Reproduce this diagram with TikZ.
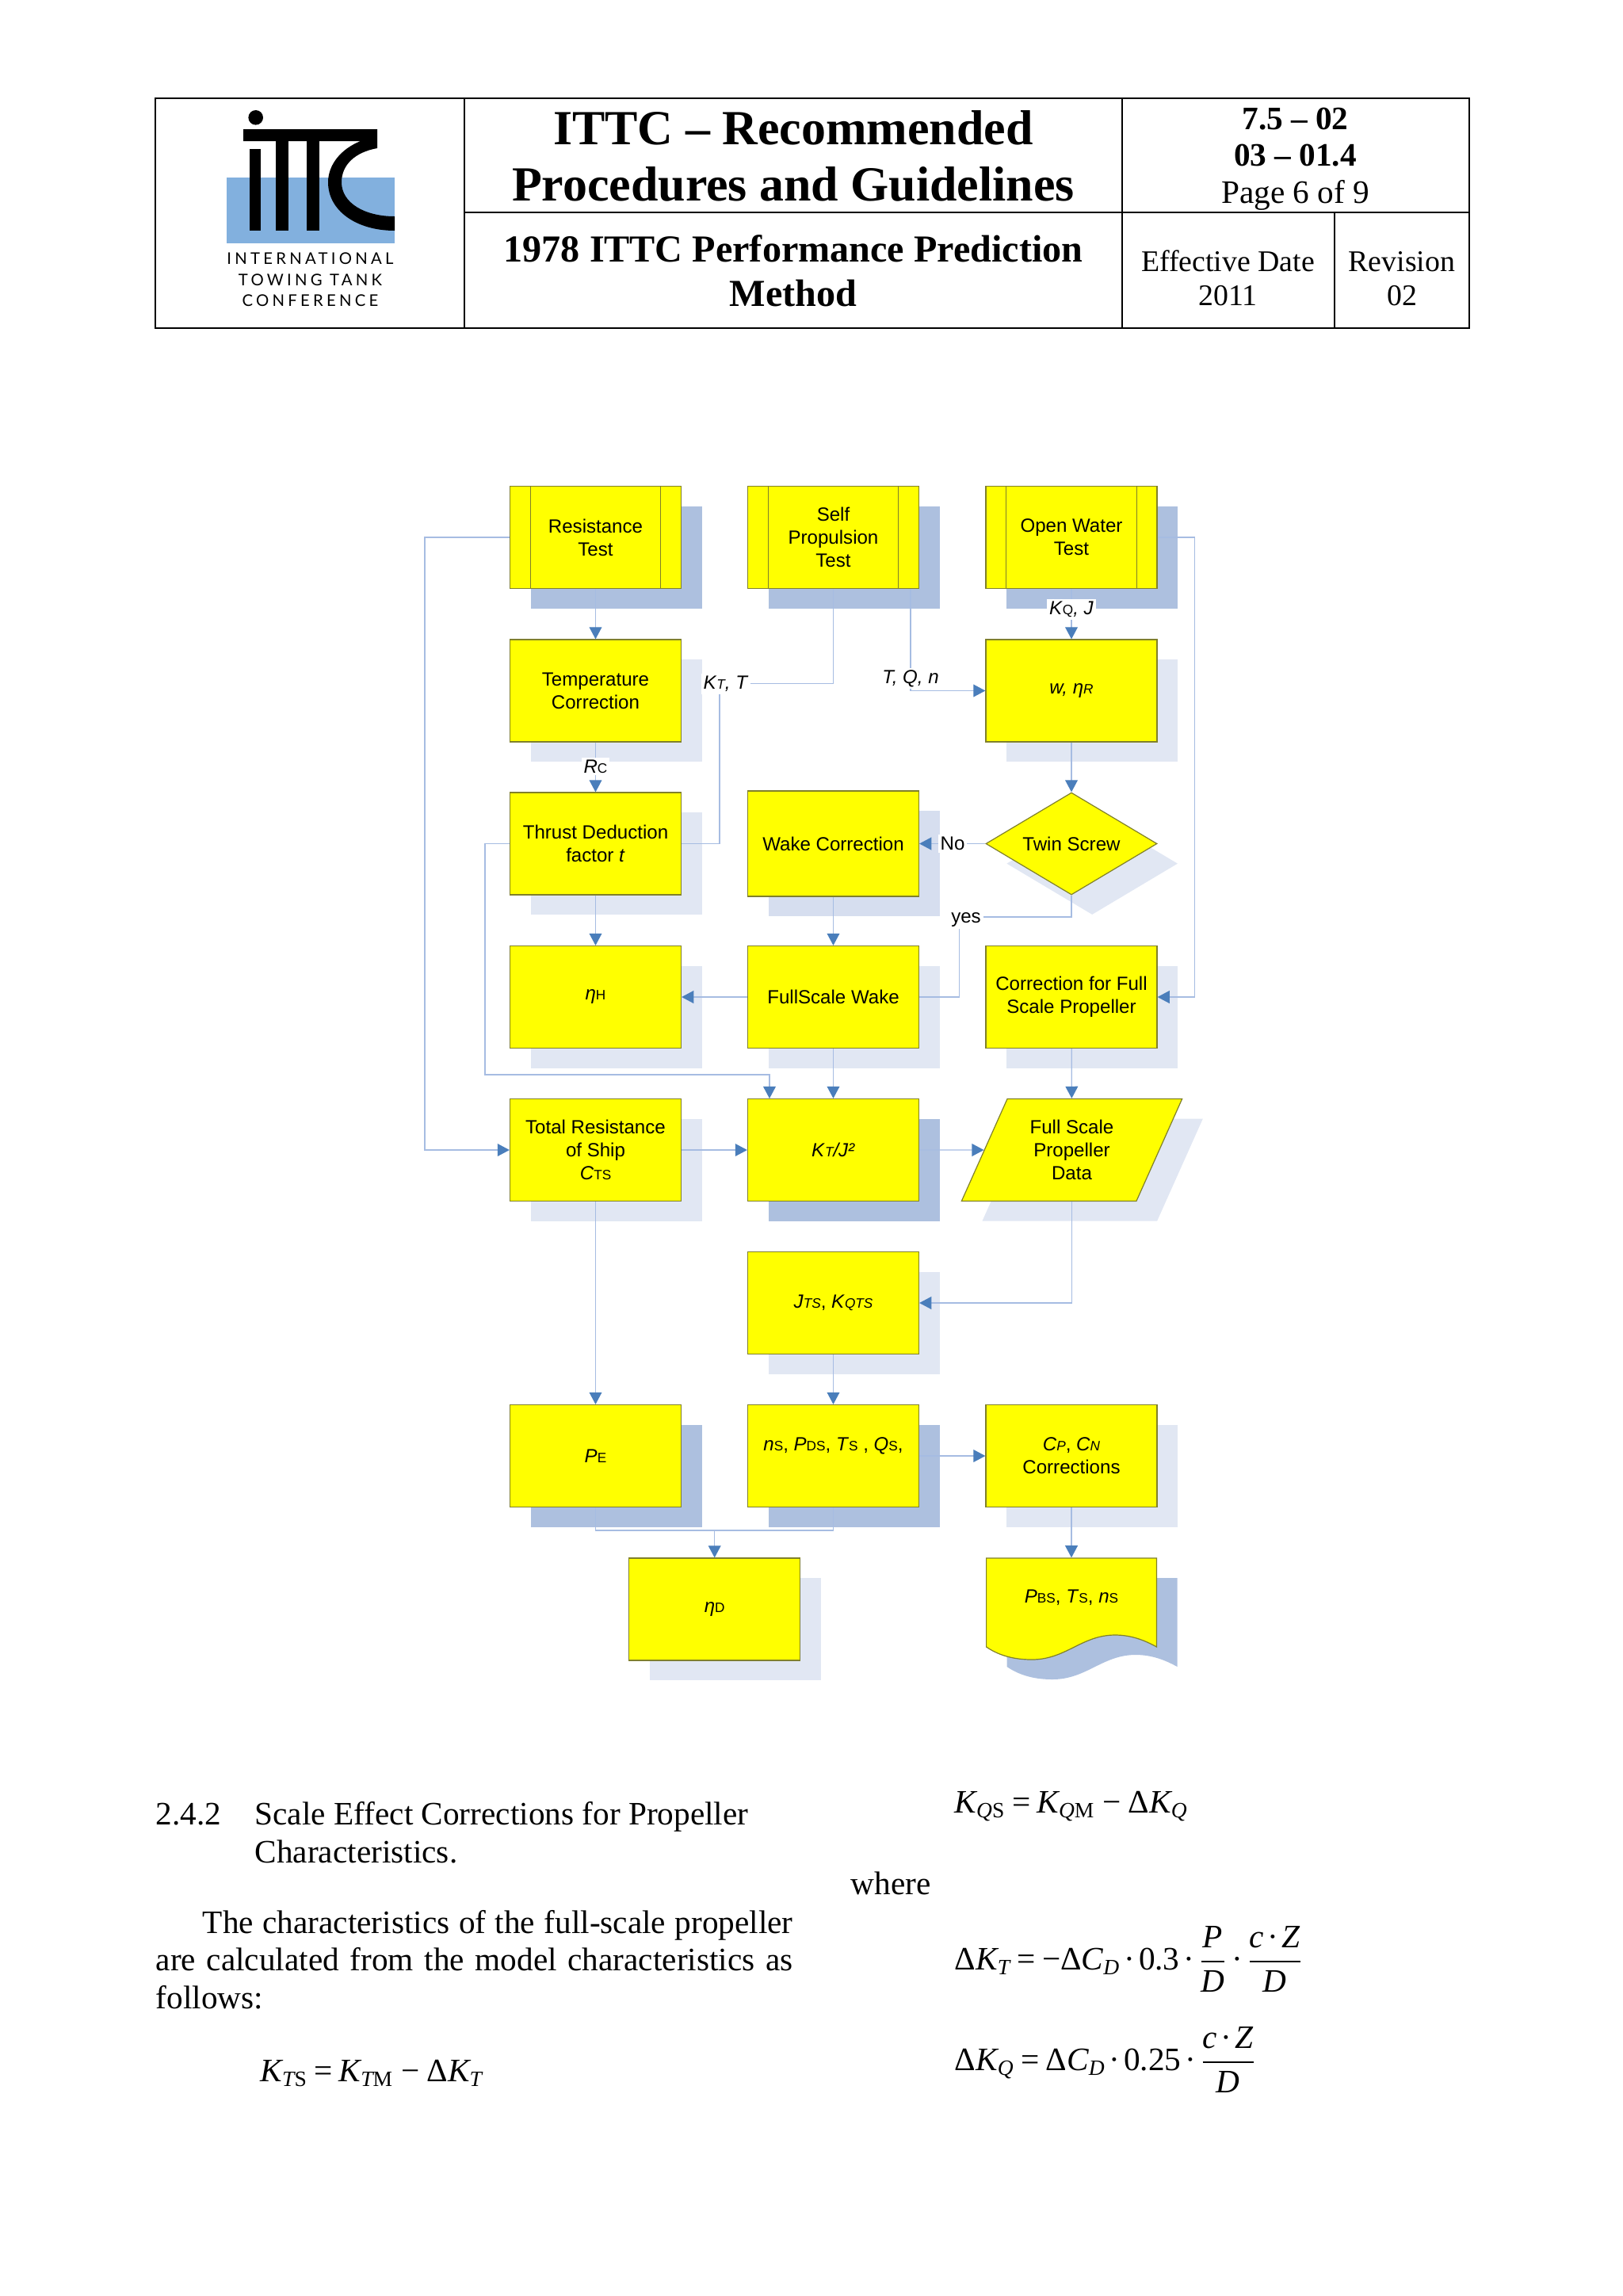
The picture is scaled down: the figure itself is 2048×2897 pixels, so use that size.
\documentclass[tikz,border=0pt]{standalone}
\usepackage{fontspec}
\usepackage{amsmath}
\setmainfont{Liberation Serif}
\setsansfont{Liberation Sans}
\newfontfamily\logofont[LetterSpace=21]{Lato}
\usetikzlibrary{arrows.meta,shapes.geometric,shadows}

\definecolor{boxyellow}{HTML}{FFFF00}
\definecolor{boxedge}{HTML}{80802A}
\definecolor{shadedark}{HTML}{ADC0DF}
\definecolor{shademid}{HTML}{D6DEEF}
\definecolor{shadelight}{HTML}{E1E7F3}
\definecolor{flowblue}{HTML}{A6BCE2}
\definecolor{tipblue}{HTML}{4A7EBB}
\definecolor{logoblue}{HTML}{82B0DE}

\newcommand{\sm}[1]{{\fontsize{5}{5}\selectfont #1}}
\newcommand{\smi}[1]{{\fontsize{5}{5}\selectfont\itshape #1}}
\newcommand{\vv}[1]{\text{\itshape #1}}
\newcommand{\rr}[1]{\text{#1}}
\newcommand{\eqs}{\mskip3.5mu\text{=}\mskip3.5mu}
\newcommand{\mns}{\mskip4mu\text{−}\mskip4mu}
\newcommand{\dt}{\mskip2mu\text{·}\mskip2mu}

\tikzset{
	flowbox/.style={shape=rectangle, draw=boxedge, fill=boxyellow, line width=.35pt, minimum width=62.8pt, minimum height=37.5pt, inner sep=0pt, align=center, font=\sffamily\fontsize{7}{8.4}\selectfont},
	darkbox/.style={flowbox, copy shadow={shadow xshift=7.6pt, shadow yshift=-7.3pt, draw=none, fill=shadedark}},
	midbox/.style={flowbox, minimum height=38.7pt, copy shadow={shadow xshift=7.6pt, shadow yshift=-7.3pt, draw=none, fill=shademid}},
	lightbox/.style={flowbox, copy shadow={shadow xshift=7.6pt, shadow yshift=-7.3pt, draw=none, fill=shadelight}},
	testbox/.style={darkbox, append after command={
		([xshift=7.7pt]\tikzlastnode.north west) edge[draw=boxedge, line width=.35pt] ([xshift=7.7pt]\tikzlastnode.south west)
		([xshift=-7.7pt]\tikzlastnode.north east) edge[draw=boxedge, line width=.35pt] ([xshift=-7.7pt]\tikzlastnode.south east)}},
	flowline/.style={draw=flowblue, line width=.35pt},
	flowarrow/.style={flowline, -{Triangle[length=4.4pt, width=4.6pt, color=tipblue]}},
	flowlabel/.style={fill=white, inner sep=.8pt, font=\sffamily\fontsize{7}{8.4}\selectfont},
	headtext/.style={anchor=base, align=center},
	logotext/.style={anchor=base, inner sep=0pt, font=\logofont\fontsize{5.9}{6}\selectfont},
	bodytext/.style={anchor=base west, inner sep=0pt, font=\fontsize{12}{13.9}\selectfont},
	mathtext/.style={anchor=base west, inner sep=0pt, font=\fontsize{12}{14}\selectfont},
}

\begin{document}
\begin{tikzpicture}[x=0.2907pt, y=-0.2907pt]
	\useasboundingbox (0,0) rectangle (2048,2897);

	\draw[line width=.7pt] (196,124) rectangle (1854,414);
	\draw[line width=.5pt] (586,124) -- (586,414);
	\draw[line width=.5pt] (1416,124) -- (1416,414);
	\draw[line width=.5pt] (1684,268) -- (1684,414);
	\draw[line width=.7pt] (586,268) -- (1854,268);

	\fill[logoblue] (286,224) rectangle (498,307);
	\fill (322.7,148.3) circle (9.3);
	\fill (315,188) rectangle (329,291);
	\fill (348,170) rectangle (364,291);
	\fill (387,170) rectangle (403,291);
	\fill (307,163) -- (476,163) -- (476,187) .. controls (448,192) and (431,208) .. (431,230) .. controls (431,256) and (460,273) .. (498,273) -- (498,291) .. controls (450,291) and (414,266) .. (414,230) .. controls (414,208) and (430,188) .. (455,178) -- (307,178) -- cycle;
	\node[logotext] (logo1) at (391.5,333) {INTERNATIONAL};
	\node[logotext] (logo2) at (391.5,360) {TOWING TANK};
	\node[logotext] (logo3) at (391.5,386) {CONFERENCE};

	\node[headtext, font=\bfseries\fontsize{18}{20.6}\selectfont] (title) at (1001,253) {ITTC – Recommended\\Procedures and Guidelines};
	\node[headtext, font=\bfseries\fontsize{14}{16}\selectfont]   (subtitle) at (1001,386) {1978 ITTC Performance Prediction\\Method};
	\node[headtext, font=\bfseries\fontsize{12}{13.7}\selectfont] (code1) at (1634.5,163) {7.5 – 02};
	\node[headtext, font=\bfseries\fontsize{12}{13.7}\selectfont] (code2) at (1634.5,209) {03 – 01.4};
	\node[headtext, font=\fontsize{12}{13.7}\selectfont]          (page) at (1634.5,256) {Page 6 of 9};
	\node[headtext, font=\fontsize{11}{12.4}\selectfont]          (date) at (1549.5,385) {Effective Date\\2011};
	\node[headtext, font=\fontsize{11}{12.4}\selectfont]          (rev) at (1769,385) {Revision\\02};

	\node[testbox]  (res)    at (751.5,678)  {Resistance\\Test};
	\node[testbox]  (sp)     at (1051.5,678) {Self\\Propulsion\\Test};
	\node[testbox]  (ow)     at (1352,678)   {Open Water\\Test};
	\node[lightbox] (temp)   at (751.5,871.5)  {Temperature\\Correction};
	\node[lightbox] (w)      at (1352,871.5)   {\textit{w, η}\smi{R}};
	\node[lightbox] (thrust) at (751.5,1064.5) {Thrust Deduction\\factor \textit{t}};
	\node[midbox]   (wake)   at (1051.5,1064.5) {Wake Correction};
	\node[shape=diamond, aspect=1.667, draw=boxedge, fill=boxyellow, line width=.35pt, minimum width=62.8pt, minimum height=37.5pt, inner sep=0pt, font=\sffamily\fontsize{7}{8.4}\selectfont, copy shadow={shadow xshift=7.6pt, shadow yshift=-7.3pt, draw=none, fill=shadelight}] (twin) at (1352,1064.5) {Twin Screw};
	\node[lightbox] (etah)   at (751.5,1258)  {\textit{η}\sm{H}};
	\node[lightbox] (fs)     at (1051.5,1258) {FullScale Wake};
	\node[lightbox] (corr)   at (1352,1258)   {Correction for Full\\Scale Propeller};
	\node[lightbox] (total)  at (751.5,1451)  {Total Resistance\\of Ship\\\textit{C}\sm{TS}};
	\node[darkbox]  (kt)     at (1051.5,1451) {\textit{K}\smi{T}\textit{/J²}};
	\node[shape=trapezium, trapezium left angle=63.6, trapezium right angle=116.4, trapezium stretches=true, draw=boxedge, fill=boxyellow, line width=.35pt, minimum width=81.1pt, minimum height=37.5pt, inner sep=0pt, align=center, font=\sffamily\fontsize{7}{8.4}\selectfont, copy shadow={shadow xshift=7.6pt, shadow yshift=-7.3pt, draw=none, fill=shadelight}] (fpd) at (1352.5,1451) {Full Scale\\Propeller\\Data};
	\node[lightbox] (jts)    at (1051.5,1644) {\textit{J}\smi{TS}, \textit{K}\smi{QTS}};
	\node[darkbox]  (pe)     at (751.5,1837)  {\textit{P}\sm{E}};
	\node[darkbox]  (ns)     at (1051.5,1837) {\textit{n}\sm{S}, \textit{P}\sm{DS}, \textit{T}\sm{S} , \textit{Q}\sm{S},\\~};
	\node[lightbox] (cp)     at (1352,1837)   {\textit{C}\smi{P}, \textit{C}\smi{N}\\Corrections};
	\node[lightbox] (etad)   at (901.7,2030.5) {\textit{η}\sm{D}};

	\fill[shadedark] (1270.6,2103) .. controls (1288,2115) and (1308,2119) .. (1328,2119) .. controls (1371,2119) and (1391,2088) .. (1433,2088) .. controls (1454,2088) and (1471,2095) .. (1485.5,2103) -- (1485.5,1991) -- (1270.6,1991) -- cycle;
	\path[draw=boxedge, fill=boxyellow, line width=.35pt] (1244.6,2078) .. controls (1262,2090) and (1282,2094) .. (1302,2094) .. controls (1345,2094) and (1365,2063) .. (1407,2063) .. controls (1428,2063) and (1445,2070) .. (1459.5,2078) -- (1459.5,1966) -- (1244.6,1966) -- cycle;
	\node[minimum width=62.4pt, minimum height=37.5pt, inner sep=0pt] (doc) at (1352,2030.5) {};
	\node[inner sep=0pt, font=\sffamily\fontsize{7}{8.4}\selectfont] (doctext) at (1352,2016) {\textit{P}\sm{BS}, \textit{T}\sm{S}, \textit{n}\sm{S}};

	\coordinate (tqnbend) at (1149,871.5);
	\coordinate (kttbend) at (908,862.5);
	\coordinate (yesbend) at (1210.5,1157);
	\coordinate (owbend)  at (1507.5,678);
	\coordinate (resbend) at (536,678);
	\coordinate (thrbend) at (612,1356);
	\coordinate (thrend)  at (971,1386);
	\coordinate (etajoin) at (901.7,1931);

	\path [flowarrow] (res) edge (temp);
	\path [flowarrow] (temp) edge (thrust);
	\path [flowarrow] (ow) edge (w);
	\path [flowarrow] (w) edge (twin);
	\path [flowarrow] (twin) edge (wake);
	\path [flowarrow] (wake) edge (fs);
	\path [flowarrow] (fs) edge (etah);
	\path [flowarrow] (thrust) edge (etah);
	\path [flowarrow] (fs) edge (kt);
	\path [flowarrow] (corr) edge (fpd);
	\path [flowarrow] (total) edge (kt);
	\path [flowarrow] (kt) edge (fpd);
	\path [flowarrow] (total) edge (pe);
	\path [flowarrow] (jts) edge (ns);
	\path [flowarrow] (ns) edge (cp);
	\path [flowarrow] (cp) edge (doc);
	\draw [flowline]  (sp.south) |- (kttbend) -- (kttbend |- thrust.east) -- (thrust.east);
	\draw [flowarrow] (sp.south -| tqnbend) -- (tqnbend) -- (w.west);
	\draw [flowline]  (twin.south) |- (yesbend) -- (yesbend |- fs.east) -- (fs.east);
	\draw [flowarrow] (ow.east) -- (owbend) |- (corr.east);
	\draw [flowarrow] (res.west) -- (resbend) |- (total.west);
	\draw [flowarrow] (thrust.west) -| (thrbend) -| (thrend);
	\draw [flowarrow] (fpd.south) |- (jts.east);
	\draw [flowline]  (pe.south) |- (etajoin);
	\draw [flowline]  (ns.south) |- (etajoin);
	\draw [flowarrow] (etajoin) -- (etad);

	\node[flowlabel] (kqlab)  at (1352,769)  {\textit{K}\sm{Q}\textit{, J}};
	\node[flowlabel] (rclab)  at (751.5,967) {\textit{R}\sm{C}};
	\node[flowlabel] (kttlab) at (916,863)   {\textit{K}\smi{T}\textit{, T}};
	\node[flowlabel] (tqnlab) at (1149,856)  {\textit{T, Q, n}};
	\node[flowlabel] (nolab)  at (1202,1064.5) {No};
	\node[flowlabel] (yeslab) at (1219,1160) {yes};

	\node[bodytext] (secno) at (196,2302) {2.4.2};
	\node[bodytext] (sec1)  at (321,2302) {Scale Effect Corrections for Propeller};
	\node[bodytext] (sec2)  at (321,2350) {Characteristics.};
	\node[bodytext, text width=233.7pt, align=justify] (para) at (196,2439) {\hspace*{17.2pt}The characteristics of the full-scale propeller are calculated from the model characteristics as follows:};
	\node[bodytext] (where) at (1073,2390) {where};

	\node[mathtext] (kts) at (328,2626)  {$\vv{K}_{\vv{T}\rr{S}}\eqs\vv{K}_{\vv{T}\rr{M}}\mns\text{Δ}\vv{K}_{\vv{T}}$};
	\node[mathtext] (kqs) at (1204,2287) {$\vv{K}_{\vv{Q}\rr{S}}\eqs\vv{K}_{\vv{Q}\rr{M}}\mns\text{Δ}\vv{K}_{\vv{Q}}$};
	\node[mathtext] (dkt) at (1204,2485) {$\text{Δ}\vv{K}_{\vv{T}}\eqs\text{−Δ}\vv{C}_{\vv{D}}\dt\text{0.3}\dt\dfrac{\vv{P}}{\vv{D}}\dt\dfrac{\vv{c}\dt\vv{Z}}{\vv{D}}$};
	\node[mathtext] (dkq) at (1204,2612) {$\text{Δ}\vv{K}_{\vv{Q}}\eqs\text{Δ}\vv{C}_{\vv{D}}\dt\text{0.25}\dt\dfrac{\vv{c}\dt\vv{Z}}{\vv{D}}$};
\end{tikzpicture}
\end{document}
